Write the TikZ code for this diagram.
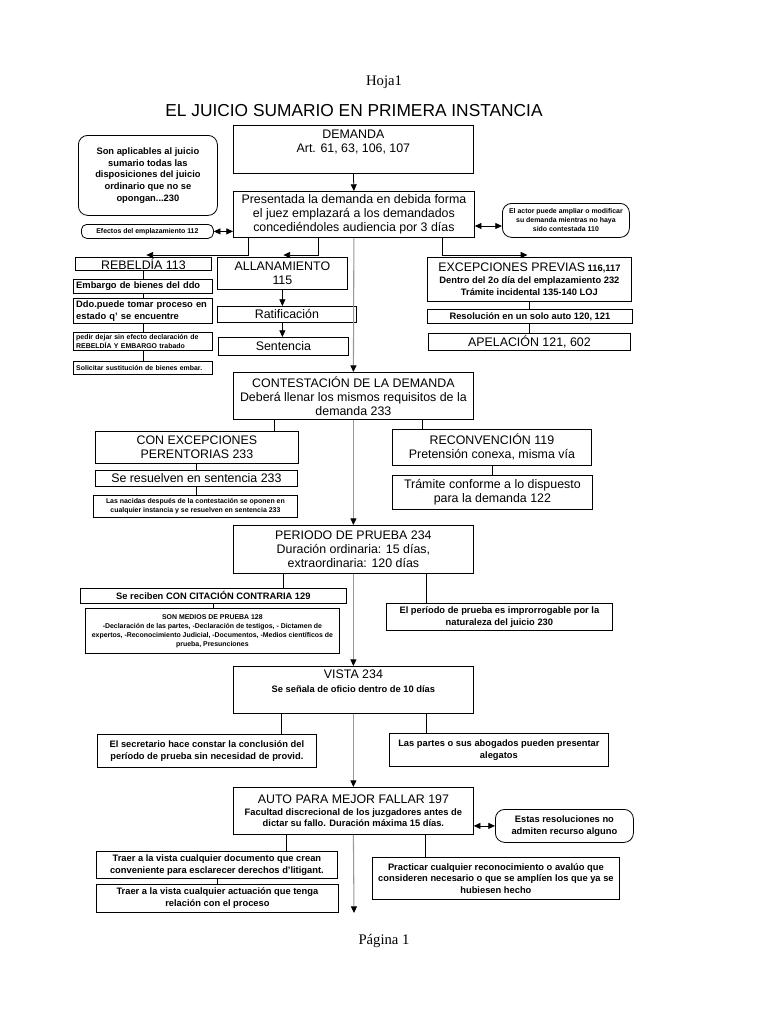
\documentclass[tikz,border=0pt]{standalone}
\usepackage{fontspec}
\setmainfont{Liberation Sans}
\newfontfamily\pagefont{Liberation Serif}
\usetikzlibrary{arrows.meta,calc}

\newcommand\bigf{\fontsize{9.3}{10.5}\selectfont\mdseries}
\newcommand\smlf{\fontsize{7}{8.8}\selectfont\bfseries}
\newcommand\tnyf{\fontsize{5.2}{6.8}\selectfont\bfseries}

\tikzset{
  box/.style={draw, line width=0.6pt, inner sep=0.5pt, anchor=north west, align=center},
  rbox/.style={box, rounded corners=7pt},
  wh/.style 2 args={minimum width=#1*0.75pt, minimum height=#2*0.75pt},
  lft/.style={align=left, text width=#1, inner xsep=2pt},
  big/.style={font=\bigf}, sml/.style={font=\smlf}, tny/.style={font=\tnyf},
  link/.style={line width=0.6pt},
  arr/.style={link, -{Triangle[length=5pt,width=4.5pt]}},
  dbl/.style={link, {Triangle[length=5pt,width=4.5pt]}-{Triangle[length=5pt,width=4.5pt]}},
  spine/.style={line width=0.8pt, black!40, -{Triangle[length=5pt,width=4.5pt,color=black]}}
}

\begin{document}
\begin{tikzpicture}[x=0.75pt,y=0.75pt,yscale=-1,xscale=1]
\useasboundingbox (0,0) rectangle (768,1024);

\node[font=\pagefont\fontsize{11}{13}\selectfont] (hoja) at (384,82) {Hoja1};
\node[font=\fontsize{13}{15}\selectfont] (titulo) at (354,111) {EL JUICIO SUMARIO EN PRIMERA INSTANCIA};

\node[box, wh={240}{48}] (dem) at (233,125) {};
\node[big, inner sep=0pt, anchor=north, align=center] (demtxt) at ($(dem.north)+(0,5)$) {DEMANDA\\Art. 61, 63, 106, 107};
\node[box, big, wh={241}{46}] (pres) at (233,191) {Presentada la demanda en debida forma\\el juez emplazará a los demandados\\concediéndoles audiencia por 3 días};
\draw[arr] (dem.south) -- (pres.north);

\node[rbox, sml, wh={139}{80}] (aplic) at (78,135) {Son aplicables al juicio\\sumario todas las\\disposiciones del juicio\\ordinario que no se\\opongan...230};
\node[rbox, tny, rounded corners=4pt, wh={132}{14}] (efec) at (81,224) {Efectos del emplazamiento 112};
\node[rbox, tny, wh={127}{34}] (actor) at (502,203) {El actor puede ampliar o modificar\\su demanda mientras no haya\\sido contestada 110};
\draw[dbl] (efec.east) -- (pres.west |- efec.east);
\draw[dbl] (pres.east |- 0,226) -- (actor.west |- 0,226);

\node[box, big, wh={136}{13}] (rebel) at (75,257) {REBELDÍA 113};
\node[box, sml, wh={139}{14}, lft=100pt] (emb) at (73,279) {Embargo de bienes del ddo};
\node[box, sml, wh={139}{25}, lft=100pt] (ddo) at (73,298) {Ddo.puede tomar proceso en\\estado q' se encuentre};
\node[box, tny, wh={139}{18}, lft=100pt] (pedir) at (73,332) {pedir dejar sin efecto declaración de\\REBELDÍA Y EMBARGO trabado};
\node[box, tny, wh={139}{13}, lft=100pt] (solic) at (73,361) {Solicitar sustitución de bienes embar.};
\draw[arr] (pres.south -| 248,0) |- ($(rebel.north)+(3,-2)$);
\foreach \a/\b in {rebel/emb, emb/ddo, ddo/pedir, pedir/solic}
  \draw[link] (\a.south) -- (\a.south |- \b.north);

\node[box, big, wh={130}{32}] (allan) at (217,257) {ALLANAMIENTO\\115};
\node[box, big, wh={139}{16}] (ratif) at (217,306) {Ratificación};
\node[box, big, wh={130}{18}] (sent) at (218,337) {Sentencia};
\draw[arr] (pres.south -| 318,0) |- ($(allan.north)+(1,-2)$);
\draw[arr] (allan.south) -- (allan.south |- ratif.north);
\draw[arr] (allan.south |- ratif.south) -- (allan.south |- sent.north);

\node[box, sml, wh={204}{44}] (exc) at (427,257) {{\bigf EXCEPCIONES PREVIAS} 116,117\\Dentro del 2o día del emplazamiento 232\\Trámite incidental 135-140 LOJ};
\node[box, sml, wh={205}{14}] (resol) at (427,309) {Resolución en un solo auto 120, 121};
\node[box, big, wh={202}{17}] (apel) at (428,333) {APELACIÓN 121, 602};
\draw[arr] (pres.south -| 442,0) |- ($(exc.north)+(-2,-2)$);
\draw[link] (exc.south) -- (exc.south |- resol.north);
\draw[link] (exc.south |- resol.south) -- (exc.south |- apel.north);

\node[box, big, wh={240}{47}] (cont) at (233,372) {CONTESTACIÓN DE LA DEMANDA\\Deberá llenar los mismos requisitos de la\\demanda 233};
\draw[spine] (pres.south) -- (cont.north);

\node[box, big, wh={203}{32}] (conexc) at (95,431) {CON EXCEPCIONES\\PERENTORIAS 233};
\node[box, big, wh={202}{16}] (resuel) at (95,470) {Se resuelven en sentencia 233};
\node[box, tny, wh={204}{22}] (nacid) at (93,495) {Las nacidas después de la contestación se oponen en\\cualquier instancia y se resuelven en sentencia 233};
\draw[link] (274,0 |- cont.south) -- (274,0 |- conexc.north);
\draw[link] (resuel.north |- conexc.south) -- (resuel.north);
\draw[link] (resuel.south) -- (resuel.south |- nacid.north);

\node[box, big, wh={199}{36}] (reconv) at (392,429) {RECONVENCIÓN 119\\Pretensión conexa, misma vía};
\node[box, big, wh={200}{34}] (tram) at (392,475) {Trámite conforme a lo dispuesto\\para la demanda 122};
\draw[link] (422,0 |- cont.south) -- (422,0 |- reconv.north);
\draw[link] (reconv.south) -- (reconv.south |- tram.north);

\node[box, big, wh={240}{48}] (period) at (233,525) {PERIODO DE PRUEBA 234\\Duración ordinaria: 15 días,\\extraordinaria: 120 días};
\draw[spine] (cont.south) -- (period.north);
\node[box, sml, wh={266}{15}] (recib) at (80,588) {Se reciben CON CITACIÓN CONTRARIA 129};
\node[box, tny, wh={254}{45}] (medios) at (85,608) {SON MEDIOS DE PRUEBA 128\\-Declaración de las partes, -Declaración de testigos, - Dictamen de\\expertos, -Reconocimiento Judicial, -Documentos, -Medios científicos de\\prueba, Presunciones};
\node[box, sml, wh={226}{27}] (improrr) at (386,603) {El período de prueba es improrrogable por la\\naturaleza del juicio 230};
\draw[link] (283,0 |- period.south) -- (283,0 |- recib.north);
\draw[link] (recib.south) -- (recib.south |- medios.north);
\draw[link] (426,0 |- period.south) -- (426,0 |- improrr.north);

\node[box, wh={240}{47}] (vista) at (233,666) {};
\node[font=\bigf, inner sep=0pt, anchor=north, align=center] (vistatxt) at ($(vista.north)+(0,4)$) {{\bigf VISTA 234}\\{\smlf Se señala de oficio dentro de 10 días}};
\draw[spine] (period.south) -- (vista.north);
\node[box, sml, wh={219}{33}] (secre) at (97,734) {El secretario hace constar la conclusión del\\período de prueba sin necesidad de provid.};
\node[box, sml, wh={219}{33}] (partes) at (389,733) {Las partes o sus abogados pueden presentar\\alegatos};
\draw[link] (281,0 |- vista.south) -- (281,0 |- secre.north);
\draw[link] (426,0 |- vista.south) -- (426,0 |- partes.north);

\node[box, sml, wh={240}{47}] (auto) at (233,787) {{\bigf AUTO PARA MEJOR FALLAR 197}\\Facultad discrecional de los juzgadores antes de\\dictar su fallo. Duración máxima 15 días.};
\draw[spine] (vista.south) -- (auto.north);
\node[rbox, sml, wh={138}{33}] (estas) at (495,809) {Estas resoluciones no\\admiten recurso alguno};
\draw[dbl] (auto.east |- estas.west) -- (estas.west);
\node[box, sml, wh={241}{27}] (traer1) at (96,851) {Traer a la vista cualquier documento que crean\\conveniente para esclarecer derechos d'litigant.};
\node[box, sml, wh={242}{28}] (traer2) at (96,884) {Traer a la vista cualquier actuación que tenga\\relación con el proceso};
\node[box, sml, wh={247}{42}] (pract) at (372,857) {Practicar cualquier reconocimiento o avalúo que\\consideren necesario o que se amplíen los que ya se\\hubiesen hecho};
\coordinate (fin) at (354,913);
\draw[spine] (auto.south) -- (fin);
\draw[link] (286,0 |- auto.south) -- (286,0 |- traer1.north);
\draw[link] (traer1.south) -- (traer1.south |- traer2.north);
\draw[link] (425,0 |- auto.south) -- (425,0 |- pract.north);

\node[font=\pagefont\fontsize{11}{13}\selectfont] (pagina) at (384,941) {Página 1};
\end{tikzpicture}
\end{document}
